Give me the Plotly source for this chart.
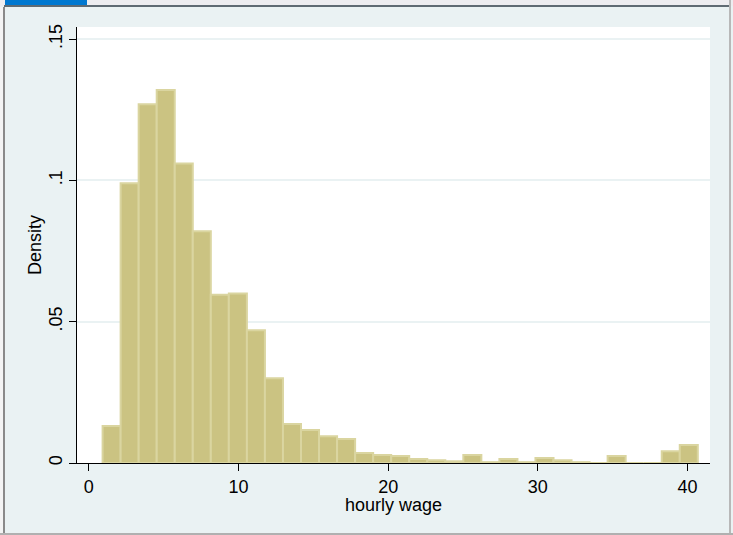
import plotly.graph_objects as go

W, H = 733, 535

# histogram of hourly wage
bin_start = 0.92
bin_width = 1.205
density = [0.0131, 0.099, 0.127, 0.132, 0.106, 0.082, 0.0595, 0.060, 0.047, 0.030, 0.0138,
           0.0117, 0.0095, 0.0085, 0.0035, 0.0028, 0.0025, 0.0014, 0.0010, 0.0006, 0.0028,
           0.0003, 0.0014, 0.0003, 0.0018, 0.0010, 0.0003, 0, 0.0025, 0, 0, 0.0042, 0.0064]
x_ticks = [0, 10, 20, 30, 40]
y_ticks = [0, 0.05, 0.1, 0.15]
y_labels = ["0", ".05", ".1", ".15"]

centers = [bin_start + bin_width * (i + 0.5) for i in range(len(density))]

ML, MR, MT, MB = 77, 23, 27, 72
BG = "#EAF2F3"
PW = W - ML - MR
PH = H - MT - MB


def px_x(x):
    return (x - ML) / PW


def px_y(y):
    return 1 - (y - MT) / PH


# window chrome around the graph, given in page pixels
def px_rect(x0, y0, x1, y1, color):
    return dict(type="rect", xref="paper", yref="paper", layer="below", line_width=0,
                fillcolor=color, x0=px_x(x0), x1=px_x(x1), y0=px_y(y0), y1=px_y(y1))


chrome = [
    px_rect(0, 0, W, 6, "#EDEDF0"),
    px_rect(5, 0, 87, 5, "#0078D0"),
    px_rect(4, 5, W - 3, 7, "#5F6B73"),
    px_rect(3, 7, 5, H - 1, "#8A8A8A"),
    px_rect(0, 7, 3, H, "#F4F4F4"),
    px_rect(W - 4, 0, W - 2, H, "#B8B8B8"),
    px_rect(0, H - 2, W, H, "#B0B0B0"),
]

fig = go.Figure()
fig.add_bar(x=centers, y=density, width=bin_width,
            marker=dict(color="#CBC382", line=dict(color="#DAD5A0", width=2)))

fig.update_layout(
    width=W, height=H, autosize=False,
    margin=dict(l=ML, r=MR, t=MT, b=MB),
    paper_bgcolor=BG, plot_bgcolor="white",
    showlegend=False, shapes=chrome,
    font=dict(family="Liberation Sans, Arial, sans-serif", size=18, color="black"),
)
fig.update_xaxes(range=[-0.79, 41.5], tickvals=x_ticks, ticks="outside", ticklen=7, tickcolor="black",
                 showgrid=False, zeroline=False, showline=True, linecolor="black", linewidth=1)
fig.update_yaxes(range=[0, 0.1543], tickvals=y_ticks, ticktext=y_labels, tickangle=-90,
                 ticks="outside", ticklen=7, tickcolor="black",
                 showgrid=True, gridcolor=BG, gridwidth=2, zeroline=False,
                 showline=True, linecolor="black", linewidth=1)

# axis titles sit closer to the ticks than title standoff allows
fig.add_annotation(text="hourly wage", xref="paper", yref="paper", x=px_x(393), y=px_y(505),
                   showarrow=False, xanchor="center", yanchor="middle")
fig.add_annotation(text="Density", xref="paper", yref="paper", x=px_x(35), y=px_y(245),
                   showarrow=False, textangle=-90, xanchor="center", yanchor="middle")

# page margin would push the graph 8px off
fig.write_html("out.html", config=dict(displayModeBar=False),
               post_script="document.body.style.margin='0';document.body.style.overflow='hidden';")
